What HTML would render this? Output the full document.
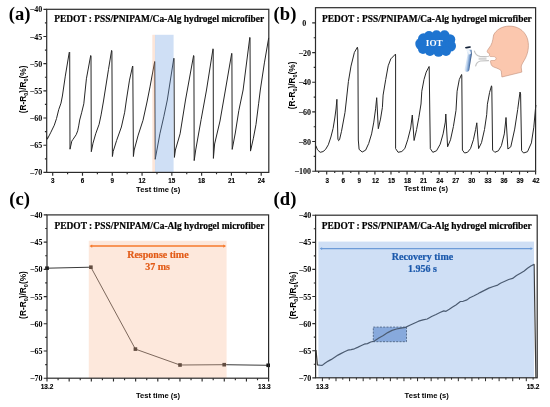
<!DOCTYPE html>
<html><head><meta charset="utf-8"><style>
html,body{margin:0;padding:0;background:#fff;}
svg{display:block;}
</style></head><body>
<svg width="550" height="407" viewBox="0 0 550 407">
<rect width="550" height="407" fill="#fff"/>
<polyline points="46.8,136.5 47.3,139.2 50.6,132.8 54.3,125.2 56.5,118.6 58.7,109.7 61,103.1 62.4,96 65.3,76.1 69.3,52 69.7,52.5 70,149.2 71.8,141.1 72.8,139.7 76.2,134.7 77.7,130.8 78.7,125.9 79.7,120 81.6,112.8 83.8,103.8 86.4,78.8 90.7,55.5 91,56 91.3,151.7 93,143.2 95.7,133.8 99.1,124.3 101.1,114.9 103.5,101 108.5,69.3 111.6,50.4 111.9,51 112.4,156.5 113.2,151.4 116.6,140.5 121.4,127 124.7,112.2 126.4,100 129.5,80.1 132.6,66 132.8,66.5 133.4,156.5 134.2,150 138.2,135.1 143,120.3 147,102 150,86.9 154.7,61.5 154.8,62 155.2,159.3 159.9,133.8 163.9,116.2 167.3,100 173.8,58.2 174,58.7 174.4,157.4 175.4,150 180.1,133.8 185.5,100 193.6,55.5 193.9,56 194.2,160.6 195.7,150 201.1,119.7 206.5,90 213,48.8 213.2,49.3 213.4,158.4 214.6,144 220,121 225.4,90 231.7,53.3 231.9,53.8 232.2,149.4 235.3,133 238.8,110.7 243.1,90 249.8,37.4 250,38 250.5,151.1 253.4,138.2 256,124.4 258.6,103.8 260.3,90 264.4,62.9 268.7,37.9" fill="none" stroke="#262626" stroke-width="1.0" stroke-linejoin="round" />
<rect x="152.3" y="34.8" width="2.8" height="137.6" fill="#f5a070" fill-opacity="0.27"/>
<rect x="155" y="34.8" width="18.6" height="137.6" fill="#6f9ee0" fill-opacity="0.335"/>
<rect x="46.7" y="9.3" width="222.1" height="163.1" fill="none" stroke="#2b2b2b" stroke-width="1.2"/>
<path d="M46.7 9.3h-3.3 M46.7 36.48h-3.3 M46.7 63.67h-3.3 M46.7 90.85h-3.3 M46.7 118.03h-3.3 M46.7 145.22h-3.3 M46.7 172.4h-3.3 M46.7 22.89h-1.8 M46.7 50.08h-1.8 M46.7 77.26h-1.8 M46.7 104.44h-1.8 M46.7 131.63h-1.8 M46.7 158.81h-1.8" stroke="#2b2b2b" stroke-width="1.15"/>
<text x="42.3" y="12.34" text-anchor="end" font-family="'Liberation Serif', 'Times New Roman', serif" font-size="8" font-weight="bold"><tspan dy="-0.9">–</tspan><tspan dy="0.9">40</tspan></text>
<text x="42.3" y="39.52" text-anchor="end" font-family="'Liberation Serif', 'Times New Roman', serif" font-size="8" font-weight="bold"><tspan dy="-0.9">–</tspan><tspan dy="0.9">45</tspan></text>
<text x="42.3" y="66.71" text-anchor="end" font-family="'Liberation Serif', 'Times New Roman', serif" font-size="8" font-weight="bold"><tspan dy="-0.9">–</tspan><tspan dy="0.9">50</tspan></text>
<text x="42.3" y="93.89" text-anchor="end" font-family="'Liberation Serif', 'Times New Roman', serif" font-size="8" font-weight="bold"><tspan dy="-0.9">–</tspan><tspan dy="0.9">55</tspan></text>
<text x="42.3" y="121.07" text-anchor="end" font-family="'Liberation Serif', 'Times New Roman', serif" font-size="8" font-weight="bold"><tspan dy="-0.9">–</tspan><tspan dy="0.9">60</tspan></text>
<text x="42.3" y="148.26" text-anchor="end" font-family="'Liberation Serif', 'Times New Roman', serif" font-size="8" font-weight="bold"><tspan dy="-0.9">–</tspan><tspan dy="0.9">65</tspan></text>
<text x="42.3" y="175.44" text-anchor="end" font-family="'Liberation Serif', 'Times New Roman', serif" font-size="8" font-weight="bold"><tspan dy="-0.9">–</tspan><tspan dy="0.9">70</tspan></text>
<path d="M52.7 172.4v3.4 M82.49 172.4v3.4 M112.27 172.4v3.4 M142.06 172.4v3.4 M171.84 172.4v3.4 M201.63 172.4v3.4 M231.41 172.4v3.4 M261.2 172.4v3.4 M67.59 172.4v1.9 M97.38 172.4v1.9 M127.16 172.4v1.9 M156.95 172.4v1.9 M186.74 172.4v1.9 M216.52 172.4v1.9 M246.31 172.4v1.9" stroke="#2b2b2b" stroke-width="1.15"/>
<text x="52.7" y="182.8" text-anchor="middle" font-family="'Liberation Sans', Arial, sans-serif" font-size="6.3" font-weight="bold" stroke="#000" stroke-width="0.12">3</text>
<text x="82.49" y="182.8" text-anchor="middle" font-family="'Liberation Sans', Arial, sans-serif" font-size="6.3" font-weight="bold" stroke="#000" stroke-width="0.12">6</text>
<text x="112.27" y="182.8" text-anchor="middle" font-family="'Liberation Sans', Arial, sans-serif" font-size="6.3" font-weight="bold" stroke="#000" stroke-width="0.12">9</text>
<text x="142.06" y="182.8" text-anchor="middle" font-family="'Liberation Sans', Arial, sans-serif" font-size="6.3" font-weight="bold" stroke="#000" stroke-width="0.12">12</text>
<text x="171.84" y="182.8" text-anchor="middle" font-family="'Liberation Sans', Arial, sans-serif" font-size="6.3" font-weight="bold" stroke="#000" stroke-width="0.12">15</text>
<text x="201.63" y="182.8" text-anchor="middle" font-family="'Liberation Sans', Arial, sans-serif" font-size="6.3" font-weight="bold" stroke="#000" stroke-width="0.12">18</text>
<text x="231.41" y="182.8" text-anchor="middle" font-family="'Liberation Sans', Arial, sans-serif" font-size="6.3" font-weight="bold" stroke="#000" stroke-width="0.12">21</text>
<text x="261.2" y="182.8" text-anchor="middle" font-family="'Liberation Sans', Arial, sans-serif" font-size="6.3" font-weight="bold" stroke="#000" stroke-width="0.12">24</text>
<text transform="translate(25.9 89.4) rotate(-90)" text-anchor="middle" font-family="'Liberation Sans', Arial, sans-serif" font-size="8.35" font-weight="bold">(R-R<tspan font-size="5.43" dy="2.09">0</tspan><tspan dy="-2.09">)/R</tspan><tspan font-size="5.43" dy="2.09">0</tspan><tspan dy="-2.09">(%)</tspan></text>
<text x="158.2" y="192.2" text-anchor="middle" font-family="'Liberation Sans', Arial, sans-serif" font-size="7.6" font-weight="bold">Test time (s)</text>
<text x="54.2" y="22.2" font-family="'Liberation Serif', 'Times New Roman', serif" font-size="9.42" font-weight="bold" stroke="#000" stroke-width="0.2">PEDOT : PSS/PNIPAM/Ca-Alg hydrogel microfiber</text>
<text x="8.8" y="19.9" font-family="'Liberation Serif', 'Times New Roman', serif" font-size="18.6" font-weight="bold">(a)</text>
<polyline points="315.8,145.6 317.5,149.8 320.2,152.3 323,151.6 325.5,149.5 328.3,144.8 330.9,137 333.1,128.4 334.8,118 336,109 336.9,99.3 337.9,139 338.6,140.7 339.5,139.8 341.5,131.3 345,112.4 346.4,100 348.4,81.6 351,66.1 354.4,52.4 357.4,47.2 357.9,50 358.3,140 359.1,149.4 362.2,152 365.6,150.2 368.7,143.5 371.6,133.9 373.8,122.1 375.6,108.8 376.7,97.7 378.3,128.7 380.5,119.1 382.4,107.4 383.1,95.1 385.7,79.6 388.2,65.8 390.8,58.9 395.5,54.1 395.6,56 395.6,148.6 398.1,152.3 401.8,151.5 404.8,148.6 407.7,139.8 410.7,128 412.3,115 414.1,140.5 416.6,129.5 418.8,117.7 421,104 421.8,91.2 424,79.5 426.2,72.1 429.1,66.5 429.2,68 430.3,148.6 432.8,152.3 436.5,150.8 440.2,144.2 443.1,133.9 445.3,122.1 445.8,114 447.6,146.8 450.5,139.8 453.4,126.5 456,110.3 457.1,91.2 459.3,79.5 461.6,74.5 461.8,76 462.4,150.1 464.6,153 467.5,152.3 470.5,148.6 473.4,139.8 475.6,129.5 476.8,122.8 478.6,148.6 481.5,142.7 484.5,129.5 486.7,114.7 487.4,104.2 489.6,92.4 491.5,85.8 491.8,87 492.6,150.1 494.8,152.3 498.4,150.8 501.4,145.7 504.3,133.9 505.8,120 506,117.5 507.9,149 510.8,146.8 514.7,129.1 517.7,109.5 520,92 520.6,94 521.6,150.7 523.6,153 527.5,151.7 531.4,142.9 533.8,127.2 535.4,109.5 535.9,105" fill="none" stroke="#262626" stroke-width="1.0" stroke-linejoin="round" />
<rect x="315.5" y="7.7" width="220.1" height="163.5" fill="none" stroke="#2b2b2b" stroke-width="1.2"/>
<path d="M315.5 22.9h-3.3 M315.5 52.56h-3.3 M315.5 82.22h-3.3 M315.5 111.88h-3.3 M315.5 141.54h-3.3 M315.5 171.2h-3.3 M315.5 37.73h-1.8 M315.5 67.39h-1.8 M315.5 97.05h-1.8 M315.5 126.71h-1.8 M315.5 156.37h-1.8" stroke="#2b2b2b" stroke-width="1.15"/>
<text x="304.3" y="25.94" text-anchor="middle" font-family="'Liberation Serif', 'Times New Roman', serif" font-size="8" font-weight="bold">0</text>
<text x="311.1" y="55.6" text-anchor="end" font-family="'Liberation Serif', 'Times New Roman', serif" font-size="8" font-weight="bold"><tspan dy="-0.9">–</tspan><tspan dy="0.9">20</tspan></text>
<text x="311.1" y="85.26" text-anchor="end" font-family="'Liberation Serif', 'Times New Roman', serif" font-size="8" font-weight="bold"><tspan dy="-0.9">–</tspan><tspan dy="0.9">40</tspan></text>
<text x="311.1" y="114.92" text-anchor="end" font-family="'Liberation Serif', 'Times New Roman', serif" font-size="8" font-weight="bold"><tspan dy="-0.9">–</tspan><tspan dy="0.9">60</tspan></text>
<text x="311.1" y="144.58" text-anchor="end" font-family="'Liberation Serif', 'Times New Roman', serif" font-size="8" font-weight="bold"><tspan dy="-0.9">–</tspan><tspan dy="0.9">80</tspan></text>
<text x="311.1" y="174.24" text-anchor="end" font-family="'Liberation Serif', 'Times New Roman', serif" font-size="8" font-weight="bold"><tspan dy="-0.9">–</tspan><tspan dy="0.9">100</tspan></text>
<path d="M326.7 171.2v3.4 M342.77 171.2v3.4 M358.84 171.2v3.4 M374.91 171.2v3.4 M390.98 171.2v3.4 M407.05 171.2v3.4 M423.12 171.2v3.4 M439.18 171.2v3.4 M455.25 171.2v3.4 M471.32 171.2v3.4 M487.39 171.2v3.4 M503.46 171.2v3.4 M519.53 171.2v3.4 M535.6 171.2v3.4 M318.67 171.2v1.9 M334.73 171.2v1.9 M350.8 171.2v1.9 M366.87 171.2v1.9 M382.94 171.2v1.9 M399.01 171.2v1.9 M415.08 171.2v1.9 M431.15 171.2v1.9 M447.22 171.2v1.9 M463.29 171.2v1.9 M479.36 171.2v1.9 M495.43 171.2v1.9 M511.5 171.2v1.9 M527.57 171.2v1.9" stroke="#2b2b2b" stroke-width="1.15"/>
<text x="327.2" y="182.9" text-anchor="middle" font-family="'Liberation Sans', Arial, sans-serif" font-size="6.3" font-weight="bold" stroke="#000" stroke-width="0.12">3</text>
<text x="343.27" y="182.9" text-anchor="middle" font-family="'Liberation Sans', Arial, sans-serif" font-size="6.3" font-weight="bold" stroke="#000" stroke-width="0.12">6</text>
<text x="359.34" y="182.9" text-anchor="middle" font-family="'Liberation Sans', Arial, sans-serif" font-size="6.3" font-weight="bold" stroke="#000" stroke-width="0.12">9</text>
<text x="375.41" y="182.9" text-anchor="middle" font-family="'Liberation Sans', Arial, sans-serif" font-size="6.3" font-weight="bold" stroke="#000" stroke-width="0.12">12</text>
<text x="391.48" y="182.9" text-anchor="middle" font-family="'Liberation Sans', Arial, sans-serif" font-size="6.3" font-weight="bold" stroke="#000" stroke-width="0.12">15</text>
<text x="407.55" y="182.9" text-anchor="middle" font-family="'Liberation Sans', Arial, sans-serif" font-size="6.3" font-weight="bold" stroke="#000" stroke-width="0.12">18</text>
<text x="423.62" y="182.9" text-anchor="middle" font-family="'Liberation Sans', Arial, sans-serif" font-size="6.3" font-weight="bold" stroke="#000" stroke-width="0.12">21</text>
<text x="439.68" y="182.9" text-anchor="middle" font-family="'Liberation Sans', Arial, sans-serif" font-size="6.3" font-weight="bold" stroke="#000" stroke-width="0.12">24</text>
<text x="455.75" y="182.9" text-anchor="middle" font-family="'Liberation Sans', Arial, sans-serif" font-size="6.3" font-weight="bold" stroke="#000" stroke-width="0.12">27</text>
<text x="471.82" y="182.9" text-anchor="middle" font-family="'Liberation Sans', Arial, sans-serif" font-size="6.3" font-weight="bold" stroke="#000" stroke-width="0.12">30</text>
<text x="487.89" y="182.9" text-anchor="middle" font-family="'Liberation Sans', Arial, sans-serif" font-size="6.3" font-weight="bold" stroke="#000" stroke-width="0.12">33</text>
<text x="503.96" y="182.9" text-anchor="middle" font-family="'Liberation Sans', Arial, sans-serif" font-size="6.3" font-weight="bold" stroke="#000" stroke-width="0.12">36</text>
<text x="520.03" y="182.9" text-anchor="middle" font-family="'Liberation Sans', Arial, sans-serif" font-size="6.3" font-weight="bold" stroke="#000" stroke-width="0.12">39</text>
<text x="536.1" y="182.9" text-anchor="middle" font-family="'Liberation Sans', Arial, sans-serif" font-size="6.3" font-weight="bold" stroke="#000" stroke-width="0.12">42</text>
<text transform="translate(294.7 85.3) rotate(-90)" text-anchor="middle" font-family="'Liberation Sans', Arial, sans-serif" font-size="8.35" font-weight="bold">(R-R<tspan font-size="5.43" dy="2.09">0</tspan><tspan dy="-2.09">)/R</tspan><tspan font-size="5.43" dy="2.09">0</tspan><tspan dy="-2.09">(%)</tspan></text>
<text x="426" y="191.4" text-anchor="middle" font-family="'Liberation Sans', Arial, sans-serif" font-size="7.6" font-weight="bold">Test time (s)</text>
<text x="321.9" y="21.6" font-family="'Liberation Serif', 'Times New Roman', serif" font-size="9.42" font-weight="bold" stroke="#000" stroke-width="0.2">PEDOT : PSS/PNIPAM/Ca-Alg hydrogel microfiber</text>
<text x="273.6" y="19.9" font-family="'Liberation Serif', 'Times New Roman', serif" font-size="18.6" font-weight="bold">(b)</text>
<polyline points="47,268.2 90.9,267.2 135.4,349.1 180,365 224.2,364.7 268.2,365.3" fill="none" stroke="#3a3a3a" stroke-width="1.0" stroke-linejoin="round" />
<rect x="45.2" y="266.4" width="3.6" height="3.6" fill="#111"/>
<rect x="89.1" y="265.4" width="3.6" height="3.6" fill="#111"/>
<rect x="133.6" y="347.3" width="3.6" height="3.6" fill="#111"/>
<rect x="178.2" y="363.2" width="3.6" height="3.6" fill="#111"/>
<rect x="222.4" y="362.9" width="3.6" height="3.6" fill="#111"/>
<rect x="266.4" y="363.5" width="3.6" height="3.6" fill="#111"/>
<rect x="88.8" y="240.8" width="137.8" height="137.4" fill="#f9bd9b" fill-opacity="0.35"/>
<rect x="47" y="214.9" width="221.6" height="163.3" fill="none" stroke="#2b2b2b" stroke-width="1.2"/>
<path d="M47 214.9h-3.3 M47 242.12h-3.3 M47 269.33h-3.3 M47 296.55h-3.3 M47 323.77h-3.3 M47 350.98h-3.3 M47 378.2h-3.3 M47 228.51h-1.8 M47 255.72h-1.8 M47 282.94h-1.8 M47 310.16h-1.8 M47 337.38h-1.8 M47 364.59h-1.8" stroke="#2b2b2b" stroke-width="1.15"/>
<text x="42.6" y="217.94" text-anchor="end" font-family="'Liberation Serif', 'Times New Roman', serif" font-size="8" font-weight="bold"><tspan dy="-0.9">–</tspan><tspan dy="0.9">40</tspan></text>
<text x="42.6" y="245.16" text-anchor="end" font-family="'Liberation Serif', 'Times New Roman', serif" font-size="8" font-weight="bold"><tspan dy="-0.9">–</tspan><tspan dy="0.9">45</tspan></text>
<text x="42.6" y="272.37" text-anchor="end" font-family="'Liberation Serif', 'Times New Roman', serif" font-size="8" font-weight="bold"><tspan dy="-0.9">–</tspan><tspan dy="0.9">50</tspan></text>
<text x="42.6" y="299.59" text-anchor="end" font-family="'Liberation Serif', 'Times New Roman', serif" font-size="8" font-weight="bold"><tspan dy="-0.9">–</tspan><tspan dy="0.9">55</tspan></text>
<text x="42.6" y="326.81" text-anchor="end" font-family="'Liberation Serif', 'Times New Roman', serif" font-size="8" font-weight="bold"><tspan dy="-0.9">–</tspan><tspan dy="0.9">60</tspan></text>
<text x="42.6" y="354.02" text-anchor="end" font-family="'Liberation Serif', 'Times New Roman', serif" font-size="8" font-weight="bold"><tspan dy="-0.9">–</tspan><tspan dy="0.9">65</tspan></text>
<text x="42.6" y="381.24" text-anchor="end" font-family="'Liberation Serif', 'Times New Roman', serif" font-size="8" font-weight="bold"><tspan dy="-0.9">–</tspan><tspan dy="0.9">70</tspan></text>
<path d="M47 378.2v3.3 M69.16 378.2v3.3 M91.32 378.2v3.3 M113.48 378.2v3.3 M135.64 378.2v3.3 M157.8 378.2v3.3 M179.96 378.2v3.3 M202.12 378.2v3.3 M224.28 378.2v3.3 M246.44 378.2v3.3 M268.6 378.2v3.3 M58.08 378.2v2.1 M80.24 378.2v2.1 M102.4 378.2v2.1 M124.56 378.2v2.1 M146.72 378.2v2.1 M168.88 378.2v2.1 M191.04 378.2v2.1 M213.2 378.2v2.1 M235.36 378.2v2.1 M257.52 378.2v2.1" stroke="#2b2b2b" stroke-width="1.15"/>
<text x="47" y="389.1" text-anchor="middle" font-family="'Liberation Sans', Arial, sans-serif" font-size="6.5" font-weight="bold" stroke="#000" stroke-width="0.12">13.2</text>
<text x="264.4" y="389.1" text-anchor="middle" font-family="'Liberation Sans', Arial, sans-serif" font-size="6.5" font-weight="bold" stroke="#000" stroke-width="0.12">13.3</text>
<text transform="translate(26.3 295) rotate(-90)" text-anchor="middle" font-family="'Liberation Sans', Arial, sans-serif" font-size="8.35" font-weight="bold">(R-R<tspan font-size="5.43" dy="2.09">0</tspan><tspan dy="-2.09">)/R</tspan><tspan font-size="5.43" dy="2.09">0</tspan><tspan dy="-2.09">(%)</tspan></text>
<text x="158" y="397.9" text-anchor="middle" font-family="'Liberation Sans', Arial, sans-serif" font-size="7.6" font-weight="bold">Test time (s)</text>
<text x="54.5" y="228.6" font-family="'Liberation Serif', 'Times New Roman', serif" font-size="9.42" font-weight="bold" stroke="#000" stroke-width="0.2">PEDOT : PSS/PNIPAM/Ca-Alg hydrogel microfiber</text>
<path d="M91 246.1H224.5" stroke="#f67a2c" stroke-width="1.5"/>
<path d="M89.4 246.1l2.8-1.6v3.2z M226.1 246.1l-2.8-1.6v3.2z" fill="#f67a2c"/>
<text x="157.9" y="257.7" text-anchor="middle" font-family="'Liberation Serif', 'Times New Roman', serif" font-size="10" font-weight="bold" fill="#e25a16" stroke="#e25a16" stroke-width="0.2">Response time</text>
<text x="157.6" y="269.6" text-anchor="middle" font-family="'Liberation Serif', 'Times New Roman', serif" font-size="10" font-weight="bold" fill="#e25a16" stroke="#e25a16" stroke-width="0.2">37 ms</text>
<text x="9.2" y="204.6" font-family="'Liberation Serif', 'Times New Roman', serif" font-size="18.6" font-weight="bold">(c)</text>
<rect x="373.3" y="327.1" width="33.2" height="14.6" fill="#2a5fb5" fill-opacity="0.5" stroke="#3c4656" stroke-width="0.9" stroke-dasharray="2 1.3"/>
<polyline points="316,350.1 317.4,364.8 319.5,365.2 322.2,365.4 324.9,363.3 328.2,361.1 331.4,359.4 334.7,357.3 338,355.1 341.3,353.4 344.5,351.8 347.8,350.2 351.1,349.6 354.4,348.8 357.6,347.4 360.9,345.8 364.2,344.2 367.4,343.6 370.7,342 374.4,341.1 378.8,338.1 383.3,335.4 387.7,332.6 392.1,330.4 396.5,329 400.9,328.2 405.4,327.4 409.8,325.2 414.2,323.2 418.6,321.2 423,319.9 427.2,319 431.6,316.5 436,314.5 440.5,312.3 443.8,310.9 446,311.3 449.3,309.3 452.6,307.1 455.9,304.9 460.4,301.5 463.1,301.3 467,299.9 469.8,297.7 473.6,296 478,293.8 480,292.6 484.4,290.4 488.8,288.1 493.3,286.5 497.7,285.1 500.4,283.2 504.3,281.5 508.7,279.5 512.6,278.4 516.5,275.4 520.9,272.9 524.2,271 527.5,268.3 530.8,266 534.1,264.4 535.9,377.8" fill="none" stroke="#3a3a3a" stroke-width="1.2" stroke-linejoin="round" />
<rect x="318.4" y="241.6" width="215.6" height="136.3" fill="#6f9ee0" fill-opacity="0.335"/>
<rect x="315.6" y="215.2" width="221.6" height="162.6" fill="none" stroke="#2b2b2b" stroke-width="1.2"/>
<path d="M315.6 215.2h-3.3 M315.6 242.3h-3.3 M315.6 269.4h-3.3 M315.6 296.5h-3.3 M315.6 323.6h-3.3 M315.6 350.7h-3.3 M315.6 377.8h-3.3 M315.6 228.75h-1.8 M315.6 255.85h-1.8 M315.6 282.95h-1.8 M315.6 310.05h-1.8 M315.6 337.15h-1.8 M315.6 364.25h-1.8" stroke="#2b2b2b" stroke-width="1.15"/>
<text x="311.2" y="218.24" text-anchor="end" font-family="'Liberation Serif', 'Times New Roman', serif" font-size="8" font-weight="bold"><tspan dy="-0.9">–</tspan><tspan dy="0.9">40</tspan></text>
<text x="311.2" y="245.34" text-anchor="end" font-family="'Liberation Serif', 'Times New Roman', serif" font-size="8" font-weight="bold"><tspan dy="-0.9">–</tspan><tspan dy="0.9">45</tspan></text>
<text x="311.2" y="272.44" text-anchor="end" font-family="'Liberation Serif', 'Times New Roman', serif" font-size="8" font-weight="bold"><tspan dy="-0.9">–</tspan><tspan dy="0.9">50</tspan></text>
<text x="311.2" y="299.54" text-anchor="end" font-family="'Liberation Serif', 'Times New Roman', serif" font-size="8" font-weight="bold"><tspan dy="-0.9">–</tspan><tspan dy="0.9">55</tspan></text>
<text x="311.2" y="326.64" text-anchor="end" font-family="'Liberation Serif', 'Times New Roman', serif" font-size="8" font-weight="bold"><tspan dy="-0.9">–</tspan><tspan dy="0.9">60</tspan></text>
<text x="311.2" y="353.74" text-anchor="end" font-family="'Liberation Serif', 'Times New Roman', serif" font-size="8" font-weight="bold"><tspan dy="-0.9">–</tspan><tspan dy="0.9">65</tspan></text>
<text x="311.2" y="380.84" text-anchor="end" font-family="'Liberation Serif', 'Times New Roman', serif" font-size="8" font-weight="bold"><tspan dy="-0.9">–</tspan><tspan dy="0.9">70</tspan></text>
<path d="M322.4 377.8v3.4 M329.2 377.8v1.9 M335.99 377.8v3.4 M342.79 377.8v1.9 M349.59 377.8v3.4 M356.38 377.8v1.9 M363.18 377.8v3.4 M369.98 377.8v1.9 M376.78 377.8v3.4 M383.57 377.8v1.9 M390.37 377.8v3.4 M397.17 377.8v1.9 M403.96 377.8v3.4 M410.76 377.8v1.9 M417.56 377.8v3.4 M424.35 377.8v1.9 M431.15 377.8v3.4 M437.95 377.8v1.9 M444.75 377.8v3.4 M451.54 377.8v1.9 M458.34 377.8v3.4 M465.14 377.8v1.9 M471.93 377.8v3.4 M478.73 377.8v1.9 M485.53 377.8v3.4 M492.32 377.8v1.9 M499.12 377.8v3.4 M505.92 377.8v1.9 M512.72 377.8v3.4 M519.51 377.8v1.9 M526.31 377.8v3.4 M533.11 377.8v1.9" stroke="#2b2b2b" stroke-width="1"/>
<text x="322.4" y="389" text-anchor="middle" font-family="'Liberation Sans', Arial, sans-serif" font-size="6.5" font-weight="bold" stroke="#000" stroke-width="0.12">13.3</text>
<text x="533" y="389" text-anchor="middle" font-family="'Liberation Sans', Arial, sans-serif" font-size="6.5" font-weight="bold" stroke="#000" stroke-width="0.12">15.2</text>
<text transform="translate(295.8 295.4) rotate(-90)" text-anchor="middle" font-family="'Liberation Sans', Arial, sans-serif" font-size="8.35" font-weight="bold">(R-R<tspan font-size="5.43" dy="2.09">0</tspan><tspan dy="-2.09">)/R</tspan><tspan font-size="5.43" dy="2.09">0</tspan><tspan dy="-2.09">(%)</tspan></text>
<text x="426.7" y="398" text-anchor="middle" font-family="'Liberation Sans', Arial, sans-serif" font-size="7.6" font-weight="bold">Test time (s)</text>
<text x="321.8" y="228.7" font-family="'Liberation Serif', 'Times New Roman', serif" font-size="9.42" font-weight="bold" stroke="#000" stroke-width="0.2">PEDOT : PSS/PNIPAM/Ca-Alg hydrogel microfiber</text>
<path d="M321 248.6H531.5" stroke="#6c9bd8" stroke-width="1.4"/>
<path d="M319.6 248.6l2.5-1.4v2.8z M533 248.6l-2.5-1.4v2.8z" fill="#6c9bd8"/>
<text x="422.5" y="259.7" text-anchor="middle" font-family="'Liberation Serif', 'Times New Roman', serif" font-size="10" font-weight="bold" fill="#1a58ab" stroke="#1a58ab" stroke-width="0.2">Recovery time</text>
<text x="422.4" y="271.8" text-anchor="middle" font-family="'Liberation Serif', 'Times New Roman', serif" font-size="10" font-weight="bold" fill="#1a58ab" stroke="#1a58ab" stroke-width="0.2">1.956 s</text>
<text x="273.6" y="204.8" font-family="'Liberation Serif', 'Times New Roman', serif" font-size="18.6" font-weight="bold">(d)</text>
<g fill="none" stroke="#c2c2c2" stroke-width="1.2" stroke-linecap="round">
<path d="M474.4 51.2 Q475.6 55.6 480 56.3 L488.5 56.8"/>
<path d="M475.7 65.9 Q476.6 61.8 480.5 61 L488.5 60.6"/>
</g>
<path d="M478.5 57.6 L488.5 57.6 L488.5 59.9 L478.5 59.9 Z" fill="#dcdcdc"/>
<path d="M479 58.7 L488.5 58.7" stroke="#c8c8c8" stroke-width="0.6"/><path d="M493.6 35 C496 30 502 26.2 509 26.1 C517 26 524 30 527 37.5 C529.5 44 528.5 52 525.5 58 C523.5 62 521.3 64.5 521.2 67 L521.8 72.1 L501.9 77 L501.2 70.8 C499.5 69 497 68.2 495 67.5 L493 66.6 C491.5 65.8 491 64.5 490.8 63 L490.4 61.2 C490.4 60.6 491 60.4 491.6 60.4 L495.2 60.1 C496.3 59.2 496.3 57.8 495.2 57.1 L490.4 56.6 C489.4 56.3 489.1 55.5 489.5 54.7 L489.7 53.9 C488.8 53.5 487.9 52.9 487.3 52 C487 51.3 487.4 50.4 487.9 49.7 L490.8 45.5 C491.8 43.5 492.6 41.5 492.8 39.6 Z" fill="#fbc7ae" stroke="#bf8b76" stroke-width="0.6"/>
<path d="M486.5 57 L494.6 57.3 Q496 58.6 494.6 59.9 L486.5 60.1 Z" fill="#fff"/><g fill="#1e74d0">
<ellipse cx="435.5" cy="43.5" rx="17" ry="10"/>
<circle cx="421.5" cy="44" r="6.2"/>
<circle cx="423.5" cy="38.8" r="5.5"/>
<circle cx="429" cy="36" r="5"/>
<circle cx="436.5" cy="35.3" r="5"/>
<circle cx="444.5" cy="35.3" r="5"/>
<circle cx="450" cy="39.5" r="5.3"/>
<circle cx="450.5" cy="46" r="5.5"/>
<circle cx="446" cy="51" r="5"/>
<circle cx="438.5" cy="51.5" r="5.2"/>
<circle cx="430" cy="51" r="5"/>
<circle cx="423" cy="49" r="5"/>
</g>
<text x="434.3" y="46.2" text-anchor="middle" font-family="'Liberation Serif', 'Times New Roman', serif" font-size="9.2" font-weight="bold" fill="#fff">IOT</text><defs><linearGradient id="dg" gradientUnits="userSpaceOnUse" x1="464.5" y1="60" x2="471.5" y2="61">
<stop offset="0" stop-color="#ffffff"/><stop offset="0.4" stop-color="#c9dcf2"/><stop offset="0.72" stop-color="#6a92c6"/><stop offset="1" stop-color="#182c52"/></linearGradient></defs>
<path d="M466.6 49.5 L471.6 49.8 L471.9 54 L469.2 70.2 Q467.8 72.6 465.4 71.4 Q464.2 70.4 464.6 69 L467.6 54.5 Z" fill="url(#dg)"/>
<path d="M466.4 49.6 Q470.6 49.8 471 53.6 L468.8 54.8 Q468.4 51.5 466.6 51.2 Z" fill="#eef4fb"/>
<ellipse cx="468" cy="47.4" rx="3.1" ry="0.9" transform="rotate(-8 468 47.4)" fill="#142238"/>
</svg>
</body></html>
